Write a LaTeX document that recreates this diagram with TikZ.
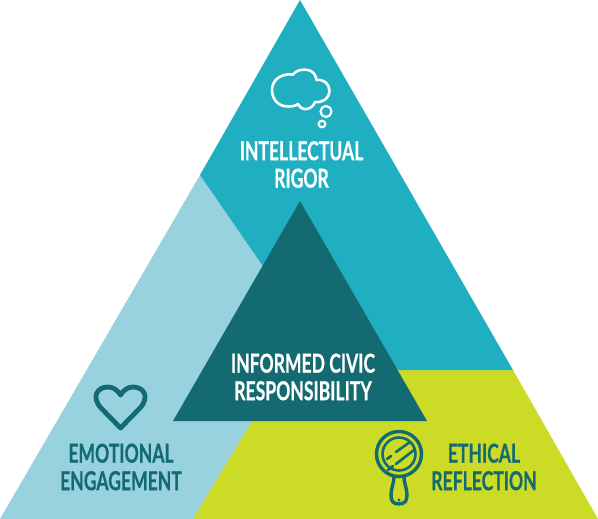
\documentclass[tikz,border=0pt]{standalone}
\usepackage{fontspec}
\setmainfont[FakeStretch=0.67,FakeBold=0.4]{Lato Bold}
\definecolor{teal1}{HTML}{20AFC0}
\definecolor{pale}{HTML}{98D2DE}
\definecolor{lime}{HTML}{CBDB26}
\definecolor{dark}{HTML}{136A70}
\tikzset{
  lbl/.style={align=center,font=\fontsize{26.2}{27.5}\selectfont,inner sep=0pt},
  ico/.style={line width=#1,line join=round,line cap=round},
}
\begin{document}
\begin{tikzpicture}[x=1pt,y=-1pt]
\useasboundingbox (0,0) rectangle (598,519);
% sectors
\fill[pale] (200,175) -- (0,519) -- (193,519) -- (300,342) -- (300,320) -- cycle;
\fill[lime] (513,370) -- (598,519) -- (193,519) -- (300,342) -- (397,370) -- cycle;
\fill[teal1] (300,0) -- (513,370) -- (397,370) -- (300,320) -- (200,175) -- cycle;
\fill[dark] (300,201) -- (427,421) -- (173,421) -- cycle;
% labels
\node[lbl,white] (rigor) at (301.5,164.5) {INTELLECTUAL\\RIGOR};
\node[lbl,white] (civic) at (303,377) {INFORMED CIVIC\\RESPONSIBILITY};
\node[lbl,dark] (emotional) at (121,467) {EMOTIONAL\\ENGAGEMENT};
\node[lbl,dark] (ethical) at (484,467) {ETHICAL\\REFLECTION};
% cloud
\draw[white,ico=2.6pt] (288,106.5) .. controls (278,106.5) and (272,99) .. (272,90)
  .. controls (272,80) and (281,73) .. (293,74.5)
  .. controls (296,70) and (303,69) .. (308,70)
  .. controls (313,71) and (316,75) .. (316.5,80)
  .. controls (324,79) and (329.5,84) .. (329.5,91)
  .. controls (329.5,98) and (323,103) .. (315,102)
  .. controls (312,110) and (302,112) .. (298,104)
  .. controls (296,106) and (292,106.5) .. (288,106.5) -- cycle;
\draw[white,ico=2.2pt] (326,111.5) circle (5.5);
\draw[white,ico=2.2pt] (322,124) circle (3.3);
% heart
\draw[dark,ico=4.8pt,line cap=butt] (120.5,428) -- (101,408)
  .. controls (91,397) and (97,387) .. (108,387)
  .. controls (114,387) and (118,391) .. (120.5,395)
  .. controls (123,391) and (127,387) .. (133,387)
  .. controls (144,387) and (150,397) .. (140,408) -- cycle;
% mirror
\draw[dark,ico=3.4pt] (399,454) circle (22.5);
\draw[dark,ico=2.6pt] (399,454) circle (16.5);
\draw[dark,ico=3.4pt] (394,476) .. controls (394,484) and (391,488) .. (391,495)
  .. controls (391,501) and (393,504) .. (399,504)
  .. controls (405,504) and (407,501) .. (407,495)
  .. controls (407,488) and (404,484) .. (404,476);
\fill[dark] (399,500) circle (1.6);
\draw[dark,ico=2.6pt] (396,452) -- (410,442);
\draw[dark,ico=2.6pt] (396,464) -- (414,450);
\draw[dark,ico=2.6pt] (387,459) -- (391,456);
\draw[dark,ico=2.6pt] (388,470) -- (393,466);
\fill[dark] (399,461.5) circle (1.2);
\end{tikzpicture}
\end{document}
